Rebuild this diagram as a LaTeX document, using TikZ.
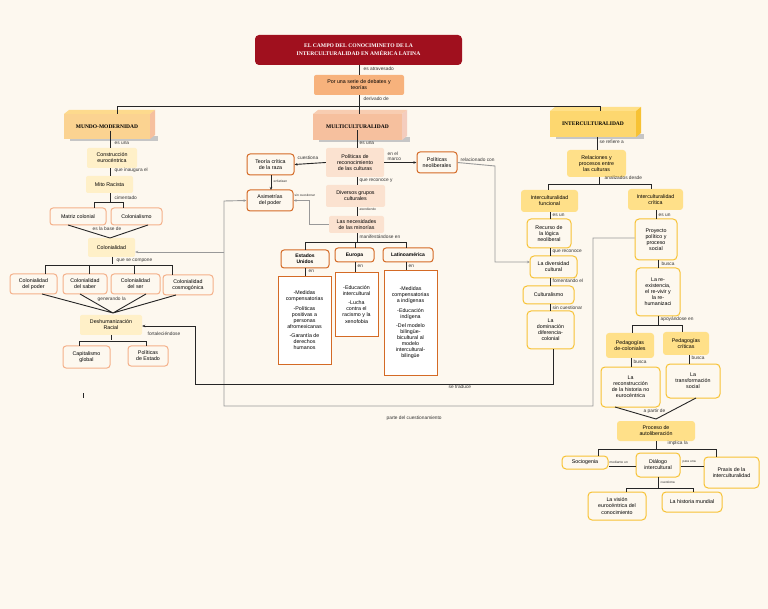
\documentclass[tikz,border=0pt]{standalone}
\usepackage{fontspec}
\setmainfont{Liberation Sans}
\newfontfamily\serifb{Liberation Serif}
\usetikzlibrary{arrows.meta}
\definecolor{bg}{HTML}{FDF8EF}
\definecolor{tred}{HTML}{A0101E}
\definecolor{lor}{HTML}{F4B089}
\definecolor{dor}{HTML}{D46A25}
\definecolor{gld}{HTML}{F7C234}
\definecolor{gfill}{HTML}{FFE089}
\definecolor{pyel}{HTML}{FFF0C8}
\definecolor{salm}{HTML}{F6C09E}
\definecolor{psal}{HTML}{FBE2D0}
\definecolor{serie}{HTML}{F7B27C}
\newcommand\bx[7]{\node[#1,minimum width={#4pt-#2pt},minimum height={#5pt-#3pt}] (#6) at ({(#2+#4)/2},{(#3+#5)/2}) {#7};}
\newcommand\threed[7]{%
 \fill[gray!45] (#2+6,#5-3) -- (#4+8,#5-3) -- (#4+8,#5+2) -- (#2+6,#5+2) -- cycle;
 \fill[#6] (#2,#3) -- (#2+5,#3-4) -- (#4+5,#3-4) -- (#4,#3) -- cycle;
 \fill[#7] (#4,#3) -- (#4+5,#3-4) -- (#4+5,#5-4) -- (#4,#5) -- cycle;
 \fill[#1] (#2,#3) rectangle (#4,#5);}
\tikzset{
 t/.style={font=\fontsize{5.3}{6.1}\selectfont,align=center,inner sep=1pt},
 lb/.style={font=\fontsize{4.8}{5.4}\selectfont,inner sep=0.5pt,anchor=west,text=black!80},
 lbs/.style={font=\fontsize{3.3}{3.8}\selectfont,inner sep=0.5pt,anchor=west,text=black!80},
 pale/.style={t,fill=pyel,rounded corners=2pt},
 lo/.style={t,draw=lor,line width=1pt,rounded corners=3pt,fill=bg},
 dob/.style={t,draw=dor,line width=1pt,rounded corners=3pt,fill=bg},
 dorect/.style={t,draw=dor,line width=0.8pt,fill=white,anchor=north,align=center},
 gb/.style={t,draw=gld,line width=1pt,rounded corners=4pt,fill=bg},
 gf/.style={t,fill=gfill,rounded corners=3pt},
 ln/.style={draw=black!85,line width=0.9pt},
 gl/.style={draw=black!40,line width=0.9pt},
 ar/.style={-{Stealth[length=3pt,width=2.5pt]}},
}
\begin{document}
\begin{tikzpicture}[x=1pt,y=-1pt]
\fill[bg] (0,0) rectangle (768,609);
\useasboundingbox (0,0) rectangle (768,609);
% title
\bx{t,fill=tred,rounded corners=4pt,text=white,font=\serifb\bfseries\fontsize{5.6}{8}\selectfont}{255}{35}{462}{65}{title}{EL CAMPO DEL CONOCIMINETO DE LA\\INTERCULTURALIDAD EN AMÉRICA LATINA}
\bx{t,fill=serie,rounded corners=2pt}{314}{75}{404}{95}{serie}{Por una  serie de debates y\\teorías}
\draw[ln] (title.south -| 359,0) -- (serie.north -| 359,0);
\node[lb] at (363,69) {es atravesado};
\node[lb] at (363,99) {derivado de};
% 3d boxes
\threed{gfill!60!salm}{64}{114}{150}{139}{gfill!80!salm}{salm}
\node[t,font=\serifb\bfseries\fontsize{5.5}{6}\selectfont] (mundo) at (107,126.5) {MUNDO-MODERNIDAD};
\threed{salm}{313}{114}{402}{140}{salm!80}{salm!120!orange}
\node[t,font=\serifb\bfseries\fontsize{5.5}{6}\selectfont] (multi) at (357.5,127) {MULTICULTURALIDAD};
\threed{gfill!70!gld}{550}{111}{636}{137}{gfill}{gld}
\node[t,font=\serifb\bfseries\fontsize{5.5}{6}\selectfont] (inter) at (593,124) {INTERCULTURALIDAD};
\draw[ln] (serie.south -| 359,0) -- (359,106);
\draw[ln] (117,114) |- (600,106) -- (600,111);
\draw[ln] (359,106) -- (359,114);
% ---------- left column
\bx{pale}{87}{148}{137}{168}{constr}{Construcción\\eurocéntrica}
\bx{pale}{86}{176}{133}{193}{mito}{Mito Racista}
\bx{lo}{50}{208}{106}{225}{matriz}{Matriz colonial}
\bx{lo}{111}{208}{162}{225}{colonialismo}{Colonialismo}
\bx{pale}{88}{238}{135}{257}{colonialidad}{Colonialidad}
\bx{lo}{10}{274}{57}{294}{cpoder}{Colonialidad\\del poder}
\bx{lo}{63}{274}{107}{294}{csaber}{Colonialidad\\del saber}
\bx{lo}{111}{274}{160}{294}{cser}{Colonialidad\\del ser}
\bx{lo}{163}{275}{213}{295}{ccosmo}{Colonialidad\\cosmogónica}
\bx{pale}{80}{315}{142}{335}{deshum}{Deshumanización\\Racial}
\bx{lo}{63}{346}{110}{368}{capital}{Capitalismo\\global}
\bx{lo}{128}{346}{168}{366}{polest}{Políticas\\de Estado}
\draw[ln] (mundo.south -| 110,0) ++(0,1) -- (constr.north -| 110,0);
\node[lb] at (114,143) {es una};
\draw[ln] (constr.south -| 110,0) -- (mito.north -| 110,0);
\node[lb] at (114,170.5) {que inaugura  el};
\draw[ln] (mito.south -| 110,0) -- (110,202) (94,208) |- (123,202) -- (123,208);
\node[lb] at (114,198) {cimentado};
\draw[ln] (68,225) -- (110,238) -- (148,225);
\node[lb] at (92,229) {es la base de};
\draw[ln] (112,257) -- (112,264);
\node[lb] at (116,261) {que se compone};
\draw[ln] (45,274) |- (172,265) -- (172,275) (89,265) -- (89,274) (134,265) -- (134,274);
\draw[ln] (42,294) -- (113,313) (80,294) -- (113,313) (146,294) -- (113,313) (176,295) -- (113,313);
\node[lb] at (97,299) {generando la};
\draw[ln] (111,335) -- (111,340) (79,346) |- (146,341) -- (146,346);
\draw[ln] (83,393) -- (83,398);
% ---------- middle
\bx{t,fill=psal,rounded corners=2pt}{326}{148}{384}{177}{polrec}{Políticas de\\reconocimiento\\de las culturas}
\bx{dob}{247}{154}{294}{175}{teoria}{Teoría crítica\\de la raza}
\bx{dob}{417}{152}{457}{173}{polneo}{Políticas\\neoliberales}
\bx{dob}{247}{190}{293}{211}{asim}{Asimetrías\\del poder}
\bx{t,fill=psal,rounded corners=2pt}{326}{185}{385}{207}{diversos}{Diversos grupos\\culturales}
\bx{t,fill=psal,rounded corners=2pt}{329}{216}{384}{233}{necesid}{Las necesidades\\de las minorías}
\bx{dob,font=\bfseries\fontsize{5}{5.8}\selectfont}{281}{250}{329}{268}{eeuu}{Estados\\Unidos}
\bx{dob,font=\bfseries\fontsize{5}{5.8}\selectfont}{335}{248}{374}{262}{europa}{Europa}
\bx{dob,font=\bfseries\fontsize{5}{5.8}\selectfont}{383}{248}{433}{262}{latam}{Latinoamérica}
\node[dorect,minimum width=53pt,minimum height=88pt] (txeu) at (304.5,276) {-Medidas\\compensatorias\\[3pt]-Políticas\\positivas a\\personas\\afromexicanas\\[3pt]-Garantía  de\\derechos\\humanos};
\node[dorect,minimum width=43pt,minimum height=64pt] (txeur) at (356.5,272) {-Educación\\intercultural\\[3pt]-Lucha\\contra el\\racismo y la\\xenofobia};
\node[dorect,minimum width=53pt,minimum height=105pt] (txlat) at (410.5,270) {-Medidas\\compensatorias\\a indígenas\\[3pt]-Educación\\indígena\\[3pt]-Del modelo\\bilingüe-\\bicultural  al\\modelo\\intercultural-\\bilingüe};
\draw[ln] (multi.south -| 357,0) -- (polrec.north -| 357,0);
\node[lb] at (359,143) {es una};
\draw[ln,ar] (polrec.west) -- (teoria.east);
\node[lb] at (297,158) {cuestiona};
\draw[ln,ar] (polrec.east) -- (polneo.west);
\node[lb,align=left] at (387,156) {en el\\marco};
\draw[ln,ar] (271,175) -- (271,190);
\node[lbs] at (273,181) {enfatizan};
\draw[ln] (polrec.south -| 357,0) -- (diversos.north -| 357,0);
\node[lb] at (359,181) {que reconoce y};
\draw[ln] (diversos.south -| 357,0) -- (necesid.north -| 357,0);
\node[lbs] at (359,209) {atendiendo};
\draw[gl,ar] (necesid.west) -- (309,224.5) |- (asim.east);
\node[lbs] at (294,195) {sin cuestionar};
\draw[ln] (necesid.south -| 357,0) -- (357,242);
\node[lb] at (359,237) {manifestándose en};
\draw[ln] (305,250) |- (406,242) -- (406,248) (355,242) -- (355,248);
\draw[ln] (305,268) -- (305,276) (355,262) -- (355,272) (406,262) -- (406,270);
\node[lb] at (308,271) {en}; \node[lb] at (357,266) {en}; \node[lb] at (408,266) {en};
\draw[gl,ar] (polneo.east) -- (495,166) |- (530,262);
\node[lb] at (460,160) {relacionado con};
% ---------- right
\bx{gf}{567}{150}{626}{177}{relac}{Relaciones y\\procesos entre\\las culturas}
\bx{gf}{521}{190}{578}{212}{ifunc}{Interculturalidad\\funcional}
\bx{gf}{628}{189}{683}{210}{icrit}{Interculturalidad\\crítica}
\bx{gb}{527}{219}{571}{248}{recurso}{Recurso de\\la lógica\\neoliberal}
\bx{gb}{635}{219}{677}{260}{proyecto}{Proyecto\\político y\\proceso\\social}
\bx{gb}{530}{256}{577}{278}{diversidad}{La diversidad\\cultural}
\bx{gb}{523}{286}{574}{304}{cultural}{Culturalismo}
\bx{gb}{527}{311}{574}{349}{domin}{La\\dominación\\diferencia-\\colonial}
\bx{gb}{636}{268}{680}{316}{reex}{La re-\\existencia,\\el re-vivir y\\la re-\\humanizaci}
\bx{gf}{606}{333}{654}{358}{pdeco}{Pedagogías\\de-coloniales}
\bx{gf}{663}{332}{709}{355}{pcrit}{Pedagogías\\críticas}
\bx{gb}{601}{367}{660}{407}{recons}{La\\reconstrucción\\de la historia no\\eurocéntrica}
\bx{gb}{666}{364}{720}{398}{transf}{La\\transformación\\social}
\bx{gf}{617}{421}{695}{441}{proceso}{Proceso de\\autoliberación}
\bx{gb}{562}{456}{608}{469}{socio}{Sociogenia}
\bx{gb}{636}{453}{680}{477}{dialogo}{Diálogo\\intercultural}
\bx{gb}{704}{457}{759}{488}{praxis}{Praxis de la\\interculturalidad}
\bx{gb}{588}{492}{646}{520}{vision}{La visión\\eurocéntrica del\\conocimiento}
\bx{gb}{662}{492}{722}{512}{histmun}{La historia mundial}
\draw[ln] (597,137) -- (relac.north -| 597,0);
\node[lb] at (599,142) {se refiere a};
\draw[ln] (599,177) -- (599,184) (548,190) |- (651,184) -- (651,189);
\node[lb] at (604,178) {analizados desde};
\draw[ln] (550,212) -- (550,219); \node[lb] at (552,215) {es un};
\draw[ln] (656,210) -- (656,219); \node[lb] at (658,215) {es un};
\draw[ln] (550,248) -- (550,256); \node[lb] at (552,252) {que reconoce};
\draw[ln] (550,278) -- (550,286); \node[lb] at (552,281) {fomentando el};
\draw[ln] (550,304) -- (550,311); \node[lb] at (552,307.5) {sin cuestionar};
\draw[ln] (658,260) -- (658,268); \node[lb] at (661,264) {busca};
\draw[ln] (658,316) -- (658,325) (632,333) |- (682,325) -- (682,332);
\node[lb] at (660,319) {apoyándose en};
\draw[ln] (631,358) -- (631,367); \node[lb] at (633,362) {busca};
\draw[ln] (689,355) -- (689,364); \node[lb] at (691,358) {busca};
\draw[ln] (615,407) -- (656,419) -- (696,398);
\node[lb] at (643,411) {a partir de};
\draw[ln] (656,441) -- (656,449) (598,456) |- (716,449) -- (716,457);
\node[lb] at (667,443) {implica la};
\draw[ln] (socio.east |- 0,466) -- (dialogo.west |- 0,466);
\node[lbs] at (609,462) {mediante un};
\draw[ln] (dialogo.east |- 0,466) -- (praxis.west |- 0,466);
\node[lbs] at (682,462) {para una};
\draw[ln] (658,477) -- (658,488) (626,492) |- (693,488) -- (693,492);
\node[lbs] at (660,482) {cuestiona};
% ---------- long connectors
\draw[gl,ar] (proyecto.west |- 0,238) -- (593,238) -- (593,406) -- (224,406) -- (224,201) -- (asim.west);
\draw[gl,ar] (224,252) -- (colonialidad.east |- 0,252);
\node[lb] at (386,418) {parte del cuestionamiento};
\draw[ln,ar] (553,349) -- (553,384) -- (195,384) -- (195,326) -- (deshum.east |- 0,326);
\node[lb] at (448,387) {se traduce};
\node[lb] at (147,334) {fortaleciéndose};
\end{tikzpicture}
\end{document}
